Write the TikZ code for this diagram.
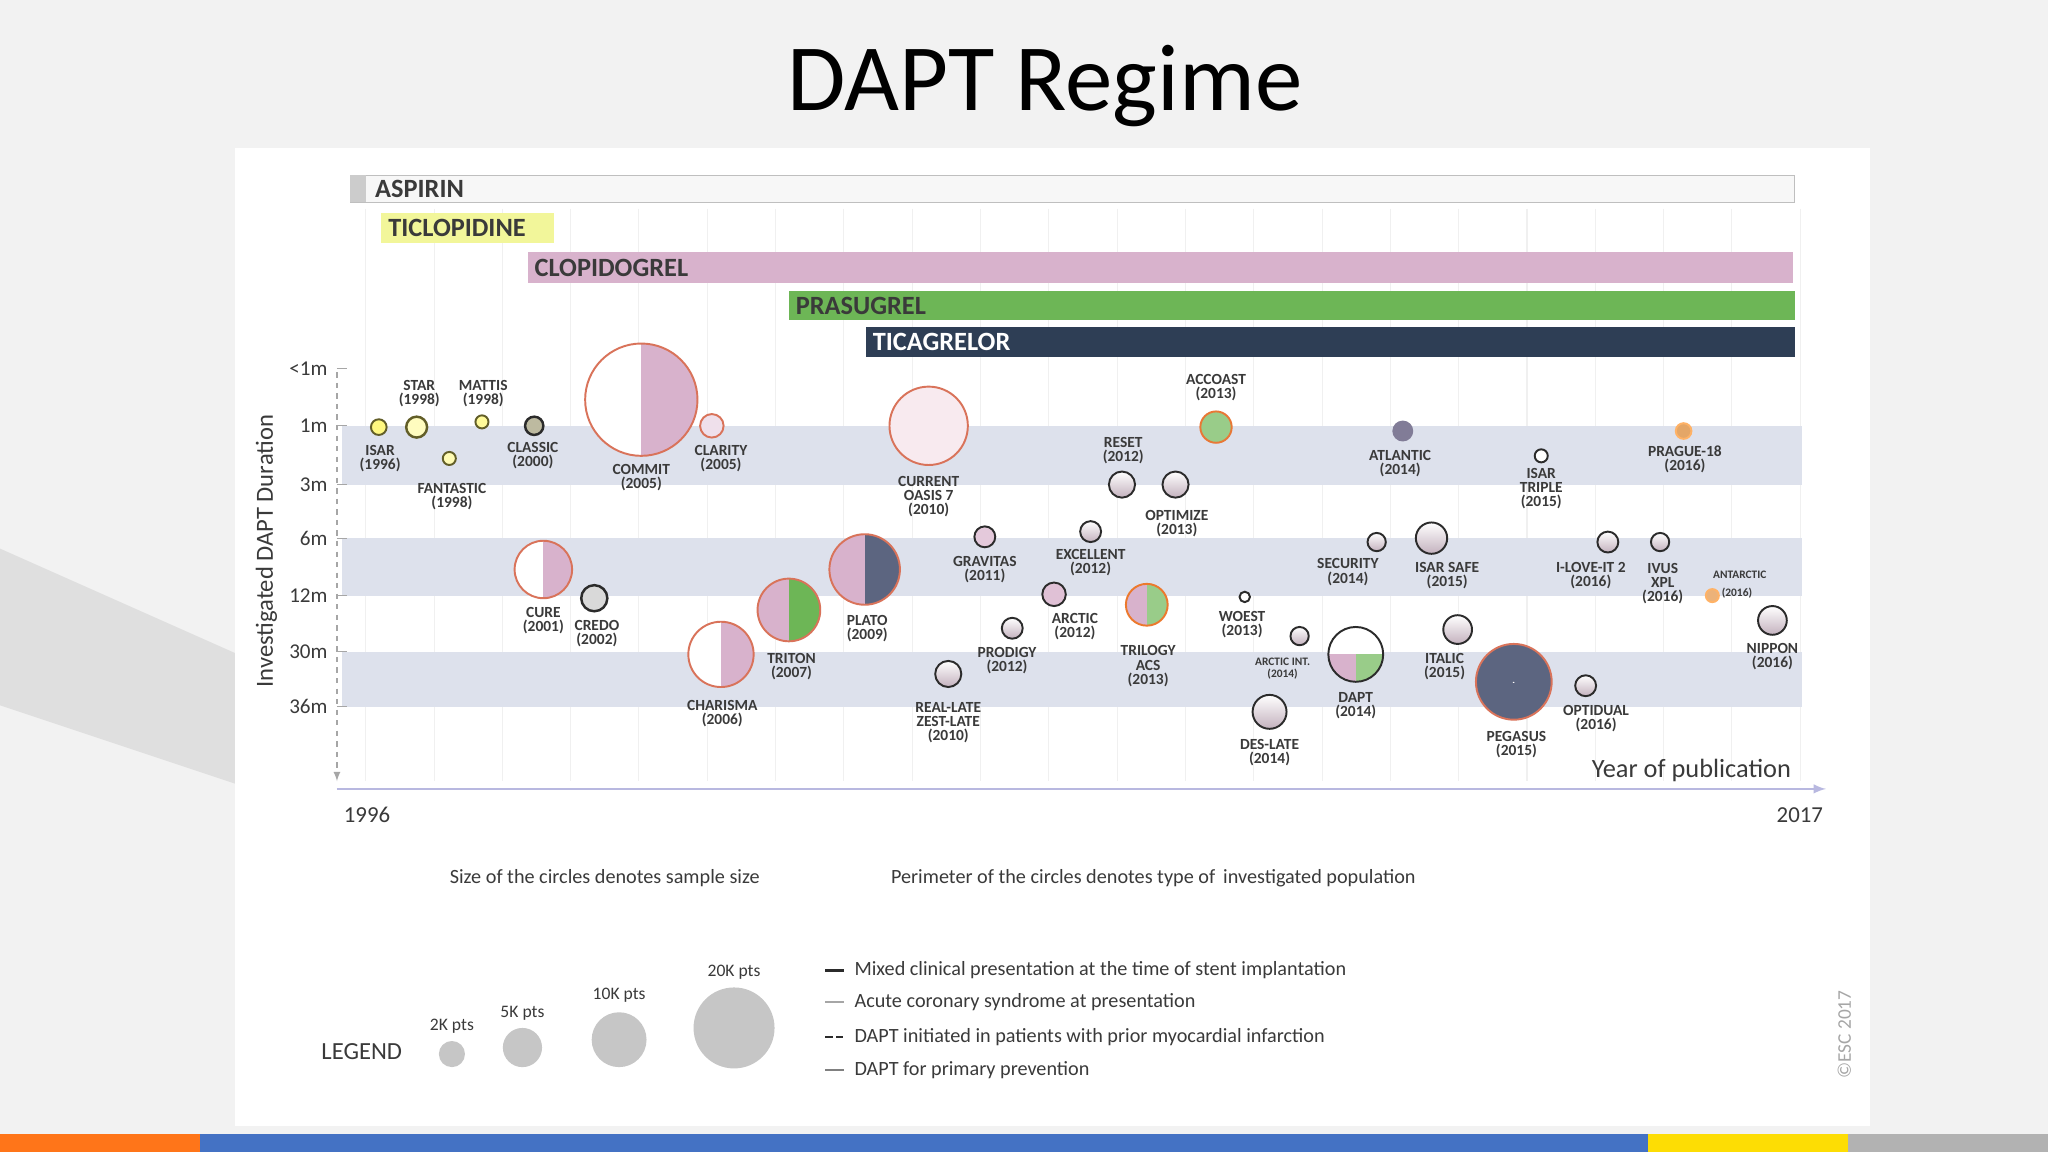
\documentclass[tikz,border=0pt]{standalone}
\usepackage{fontspec}
\setmainfont{Carlito}
\setsansfont{Carlito}
\begin{document}
\definecolor{bgc}{HTML}{F2F2F2}
\definecolor{band}{HTML}{DDE1EC}
\definecolor{pk}{HTML}{D8B2CC}
\definecolor{gr}{HTML}{6DB656}
\definecolor{nv}{HTML}{2E3E55}
\definecolor{pg}{HTML}{5C6580}
\definecolor{acs}{HTML}{D9735A}
\definecolor{mix}{HTML}{2B2B2B}
\definecolor{txt}{HTML}{3A3A3A}
\definecolor{stripeblue}{HTML}{4472C4}
\begin{tikzpicture}[x=0.02612cm,y=-0.02612cm,
  lab/.style={font=\fontsize{8.8}{8}\selectfont\bfseries, text=txt, align=center, inner sep=0},
  bartxt/.style={font=\fontsize{15}{15}\selectfont\bfseries, anchor=west, inner sep=0},
  c/.style={circle, minimum size=#1*0.05224cm, inner sep=0, line width=1.1pt},
  m/.style={draw=mix},
  a/.style={draw=acs},
  grad/.style={top color=white, bottom color=pk!60!gray!80},
  rhalf/.style={path picture={\fill[#1] (path picture bounding box.north) rectangle (path picture bounding box.south east);}},
  ylab/.style={font=\fontsize{12}{12}\selectfont, text=txt, anchor=east, inner sep=0},
  leg/.style={font=\fontsize{11.5}{11.5}\selectfont, text=txt, anchor=west, inner sep=0}]
\useasboundingbox (0,0) rectangle (1568,882);
\fill[bgc] (0,0) rectangle (1568,882);
\fill[gray!25] (0,420) -- (180,500) -- (180,600) -- (0,540) -- cycle;
\fill[white] (180,113) rectangle (1432,862);
\node[font=\fontsize{54}{54}\selectfont] (title) at (800,66) {DAPT Regime};
% bottom stripe
\fill[orange!80!red!90] (0,868) rectangle (153,882);
\fill[stripeblue] (153,868) rectangle (1262,882);
\fill[yellow!80!orange] (1262,868) rectangle (1415,882);
\fill[gray!60] (1415,868) rectangle (1568,882);
% grid
\foreach \i in {0,...,21} \draw[gray!12, line width=0.6pt] ({280+\i*52.3},160) -- ({280+\i*52.3},598);
% bars
\fill[gray!6] (268,134) rectangle (1374,155); \draw[gray!50] (268,134) rectangle (1374,155);
\fill[gray!40] (268,134) rectangle (280,155);
\node[bartxt, text=txt] (asp) at (287,144.5) {ASPIRIN};
\fill[yellow!50!lime!40] (292,163) rectangle (424,186);
\node[bartxt, text=txt] (tic) at (297,174.5) {TICLOPIDINE};
\fill[pk] (404,193) rectangle (1373,217);
\node[bartxt, text=txt] (clo) at (409,205) {CLOPIDOGREL};
\fill[gr] (604,223) rectangle (1374,245);
\node[bartxt, text=txt] (pra) at (609,234) {PRASUGREL};
\fill[nv] (663,250) rectangle (1374,273);
\node[bartxt, text=white] (tica) at (668,261.5) {TICAGRELOR};
% bands
\foreach \a/\b in {326/371,412/456,499/541} \fill[band] (262,\a) rectangle (1380,\b);
% axes
\coordinate (yt) at (258,285); \coordinate (yb) at (258,598);
\draw[gray!70, dashed, line width=0.8pt, -latex] (yt) -- (yb);
\coordinate (xl) at (258,604); \coordinate (xr) at (1398,604);
\draw[gray!60!blue!40, line width=1.4pt, -latex] (xl) -- (xr);
\foreach \t/\y in {<1m/282,1m/326,3m/371,6m/412,12m/456,30m/499,36m/541}{
  \node[ylab] at (251,\y) {\t}; \draw[gray!70] (258,\y) -- (266,\y);}
\node[font=\fontsize{14}{14}\selectfont, text=txt, rotate=90] (ytitle) at (204,422) {Investigated DAPT Duration};
\node[font=\fontsize{13}{13}\selectfont, text=txt] (y96) at (281,624) {1996};
\node[font=\fontsize{13}{13}\selectfont, text=txt] (y17) at (1378,624) {2017};
\node[font=\fontsize{15}{15}\selectfont, text=txt] (yop) at (1295,590) {Year of publication};
% circles
\node[c=6, m, draw=olive!60!black, fill=yellow!50] (isar) at (290,327) {};
\node[lab] (l1) at (291,351) {ISAR\\(1996)};
\node[c=8, draw=olive!60!black, fill=yellow!25, line width=1.4pt] (star) at (319,327) {};
\node[lab] (l2) at (321,301) {STAR\\(1998)};
\node[c=5, draw=olive!60!black, fill=yellow!40] (mattis) at (369,323) {};
\node[lab] (l3) at (370,301) {MATTIS\\(1998)};
\node[c=5, draw=olive!60!black, fill=yellow!30] (fant) at (344,351) {};
\node[lab] (l4) at (346,380) {FANTASTIC\\(1998)};
\node[c=7, draw=mix, fill=olive!25!gray!60, line width=1.4pt] (classic) at (409,326) {};
\node[lab] (l5) at (408,349) {CLASSIC\\(2000)};
\node[c=43, a, fill=white, rhalf=pk] (commit) at (491,306) {};
\node[lab] (l6) at (491,366) {COMMIT\\(2005)};
\node[c=9, a, fill=pk!40] (clarity) at (545,326) {};
\node[lab] (l7) at (552,351) {CLARITY\\(2005)};
\node[c=30, a, fill=pk!85!red!20] (current) at (711,326) {};
\node[lab] (l8) at (711,380) {CURRENT\\OASIS 7\\(2010)};
\node[c=22, a, fill=white, rhalf=pk] (cure) at (416,436) {};
\node[lab] (l9) at (416,475) {CURE\\(2001)};
\node[c=10, m, fill=gray!30, line width=1.4pt] (credo) at (455,458) {};
\node[lab] (l10) at (457,485) {CREDO\\(2002)};
\node[c=25, a, fill=white, rhalf=pk] (charisma) at (552,501) {};
\node[lab] (l11) at (553,546) {CHARISMA\\(2006)};
\node[c=24, a, fill=pk, rhalf=gr] (triton) at (604,467) {};
\node[lab] (l12) at (606,510) {TRITON\\(2007)};
\node[c=27, a, fill=pk, rhalf=pg] (plato) at (662,436) {};
\node[lab] (l13) at (664,481) {PLATO\\(2009)};
\node[c=8, m, fill=pk!70] (grav) at (754,411) {};
\node[lab] (l14) at (754,436) {GRAVITAS\\(2011)};
\node[c=8, m, grad] (excel) at (835,407) {};
\node[lab] (l15) at (835,431) {EXCELLENT\\(2012)};
\node[c=9, m, fill=pk!80] (arctic) at (807,455) {};
\node[lab] (l16) at (823,480) {ARCTIC\\(2012)};
\node[c=8, m, grad] (prodigy) at (775,481) {};
\node[lab] (l17) at (771,506) {PRODIGY\\(2012)};
\node[c=10, m, grad] (real) at (726,516) {};
\node[lab] (l18) at (726,553) {REAL-LATE\\ZEST-LATE\\(2010)};
\node[c=10, m, grad] (reset) at (859,371) {};
\node[lab] (l19) at (860,345) {RESET\\(2012)};
\node[c=10, m, grad] (optim) at (900,371) {};
\node[lab] (l20) at (901,401) {OPTIMIZE\\(2013)};
\node[c=12, draw=acs!60!orange, fill=gr!70] (accoast) at (931,327) {};
\node[lab] (l21) at (931,297) {ACCOAST\\(2013)};
\node[c=16, draw=acs!50!orange, fill=pk, rhalf=gr!70] (trilogy) at (878,463) {};
\node[lab] (l22) at (879,510) {TRILOGY\\ACS\\(2013)};
\node[c=4, m, fill=white] (woest) at (953,457) {};
\node[lab] (l23) at (951,478) {WOEST\\(2013)};
\node[c=7, m, grad] (arcint) at (995,487) {};
\node[lab, font=\fontsize{6.5}{6.5}\selectfont\bfseries] (l24) at (982,512) {ARCTIC INT.\\(2014)};
\node[c=13, m, grad] (deslate) at (972,545) {};
\node[lab] (l25) at (972,576) {DES-LATE\\(2014)};
\node[c=21, m, fill=white, path picture={\fill[pk] (path picture bounding box.west) rectangle (path picture bounding box.south); \fill[gr!70] (path picture bounding box.center) rectangle (path picture bounding box.south east);}] (dapt) at (1038,501) {};
\node[lab] (l26) at (1038,540) {DAPT\\(2014)};
\node[c=8, fill=pg!70!pk] (atlantic) at (1074,330) {};
\node[lab] (l27) at (1072,355) {ATLANTIC\\(2014)};
\node[c=7, m, grad] (secur) at (1054,415) {};
\node[lab] (l28) at (1032,438) {SECURITY\\(2014)};
\node[c=12, m, grad] (isarsafe) at (1096,412) {};
\node[lab] (l29) at (1108,441) {ISAR SAFE\\(2015)};
\node[c=11, m, grad] (italic) at (1116,482) {};
\node[lab] (l30) at (1106,510) {ITALIC\\(2015)};
\node[c=29, a, fill=pg, path picture={\fill[white] ([shift={(-0.8,0.06)}]path picture bounding box.center) -- ([shift={(0.12,0.06)}]path picture bounding box.center) -- ([shift={(0.5,0.5)}]path picture bounding box.center) -- ([shift={(0.5,0.8)}]path picture bounding box.center) -- ([shift={(-0.8,0.8)}]path picture bounding box.center) -- cycle;}] (pegasus) at (1159,522) {};
\node[lab] (l31) at (1161,570) {PEGASUS\\(2015)};
\node[c=5, m, fill=white] (isartr) at (1180,349) {};
\node[lab] (l32) at (1180,374) {ISAR\\TRIPLE\\(2015)};
\node[c=8, m, grad] (optid) at (1214,525) {};
\node[lab] (l33) at (1222,550) {OPTIDUAL\\(2016)};
\node[c=8, m, grad] (ilove) at (1231,415) {};
\node[lab] (l34) at (1218,441) {I-LOVE-IT 2\\(2016)};
\node[c=7, m, grad] (ivus) at (1271,415) {};
\node[lab] (l35) at (1273,447) {IVUS\\XPL\\(2016)};
\node[c=6, draw=orange!60, fill=brown!60!orange!70] (prague) at (1289,330) {};
\node[lab] (l36) at (1290,352) {PRAGUE-18\\(2016)};
\node[c=5, draw=orange!60, fill=brown!50!orange!60] (antarc) at (1311,456) {};
\node[lab, font=\fontsize{6.5}{6.5}\selectfont\bfseries] (l37) at (1332,440) {ANTARCTIC};
\node[lab, font=\fontsize{6.5}{6.5}\selectfont\bfseries, anchor=west] (l37b) at (1318,454) {(2016)};
\node[c=11, m, grad] (nippon) at (1357,475) {};
\node[lab] (l38) at (1357,503) {NIPPON\\(2016)};
% captions
\node[leg, anchor=center] (cap1) at (463,672) {Size of the circles denotes sample size};
\node[leg, anchor=center] (cap2) at (883,672) {Perimeter of the circles denotes type of\, investigated population};
% size legend
\node[font=\fontsize{14}{14}\selectfont, text=txt] (legend) at (277,805) {LEGEND};
\foreach \n/\x/\y/\r/\t/\ly in {k2/346/807/10/2K pts/786, k5/400/802/15/5K pts/776, k10/474/796/21/10K pts/762, k20/562/787/31/20K pts/744}{
  \node[c=\r, fill=gray!45] (\n) at (\x,\y) {};
  \node[font=\fontsize{10}{10}\selectfont, text=txt] (l\n) at (\x,\ly) {\t};}
% line legend
\coordinate (d1a) at (632,743); \coordinate (d1b) at (646,743);
\draw[mix, line width=1.6pt] (d1a) -- (d1b);
\coordinate (d2a) at (632,767); \coordinate (d2b) at (646,767);
\draw[gray!70, line width=1.2pt] (d2a) -- (d2b);
\coordinate (d3a) at (632,794); \coordinate (d3b) at (646,794);
\draw[mix, line width=1.2pt, dash pattern=on 4pt off 2pt] (d3a) -- (d3b);
\coordinate (d4a) at (632,819); \coordinate (d4b) at (646,819);
\draw[gray, line width=1.2pt] (d4a) -- (d4b);
\node[leg] (t1) at (654,743) {Mixed clinical presentation at the time of stent implantation};
\node[leg] (t2) at (654,767) {Acute coronary syndrome at presentation};
\node[leg] (t3) at (654,794) {DAPT initiated in patients with prior myocardial infarction};
\node[leg] (t4) at (654,819) {DAPT for primary prevention};
\node[font=\fontsize{11}{11}\selectfont, text=gray!70, rotate=90] (esc) at (1412,792) {©ESC 2017};
\end{tikzpicture}
\end{document}
